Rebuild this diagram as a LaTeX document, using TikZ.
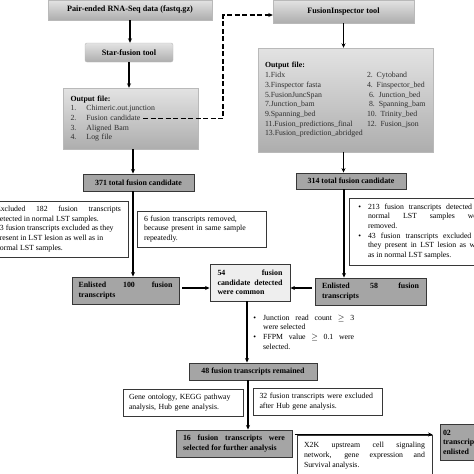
\documentclass[tikz,border=0pt]{standalone}
\usepackage{fontspec}
\setmainfont{Liberation Serif}
\usetikzlibrary{arrows.meta}
\definecolor{darkbox}{RGB}{165,165,165}
\definecolor{lightbox}{RGB}{238,238,238}
\definecolor{bordc}{RGB}{55,55,55}
\definecolor{listc}{RGB}{45,45,45}
\newcommand{\mybul}{\leavevmode\llap{\textbullet\hspace{7pt}}}
\begin{document}
\setlength{\parindent}{0pt}
\hyphenpenalty=10000 \exhyphenpenalty=10000 \tolerance=10000 \hbadness=10000
\begin{tikzpicture}[x=1pt,y=-1pt,
  every node/.style={font=\fontsize{7.8}{9.7}\selectfont, inner sep=0pt},
  gradbox/.style={draw=gray!55, top color=gray!22, bottom color=gray!64},
  darkb/.style={draw=bordc, line width=0.9pt, fill=darkbox, font=\bfseries\fontsize{7.9}{9.7}\selectfont},
  lightb/.style={draw=bordc, line width=0.9pt, fill=lightbox, font=\bfseries\fontsize{7.9}{9.7}\selectfont},
  txtb/.style={draw=bordc, line width=1pt, fill=white},
  arr/.style={line width=1.1pt, -{Stealth[length=4.5pt,width=4pt]}},
  dashline/.style={line width=1.5pt, dash pattern=on 5pt off 2.5pt, -{Stealth[length=4.5pt,width=4pt]}}
]
\useasboundingbox (0,0) rectangle (474,474);
\clip (0,0) rectangle (474,474);

% Top-left flow
\node[gradbox, minimum width=164pt, minimum height=20pt, font=\bfseries\fontsize{8.2}{9.7}\selectfont] (pair) at (130,10) {Pair-ended RNA-Seq data (fastq.gz)};
\node[gradbox, rounded corners=2pt, minimum width=88pt, minimum height=19pt, font=\bfseries\fontsize{8.2}{9.7}\selectfont] (star) at (129,52.5) {Star-fusion tool};
\node[gradbox, minimum width=135pt, minimum height=61pt, text width=120pt, align=left, text=listc] (out1) at (130.5,118.5)
 {{\bfseries\color{black}Output file:}\\
  \makebox[16pt][l]{1.}Chimeric.out.junction\\
  \makebox[16pt][l]{2.}Fusion candidate\\
  \makebox[16pt][l]{3.}Aligned Bam\\
  \makebox[16pt][l]{4.}Log file};
\coordinate (dstart) at (143,118.5);
\coordinate (dmid) at (223,118.5);

% Top-right flow
\node[gradbox, minimum width=141pt, minimum height=23pt, font=\bfseries\fontsize{8.2}{9.7}\selectfont] (fi) at (343.5,11.5) {FusionInspector tool};
\node[gradbox, minimum width=175pt, minimum height=104pt, text width=161pt, align=left, text=listc] (out2) at (345.5,100)
 {{\bfseries\color{black}Output file:}\\
  \makebox[102pt][l]{1.Fidx}2. Cytoband\\
  \makebox[102pt][l]{3.Finspector fasta}4. Finspector\_bed\\
  \makebox[104pt][l]{5.FusionJuncSpan}6. Junction\_bed\\
  \makebox[104pt][l]{7.Junction\_bam}8. Spanning\_bam\\
  \makebox[102pt][l]{9.Spanning\_bed}10. Trinity\_bed\\
  \makebox[102pt][l]{11.Fusion\_predictions\_final}12. Fusion\_json\\
  13.Fusion\_prediction\_abridged};

% Candidates
\node[darkb, minimum width=111pt, minimum height=17pt] (c371) at (138.5,182.5) {371 total fusion candidate};
\node[darkb, minimum width=110pt, minimum height=16pt] (c314) at (351,181) {314 total fusion candidate};

\node[txtb, minimum width=139pt, minimum height=56pt, text width=125pt, align=justify] (excl) at (58.5,229)
 {Excluded 182 fusion transcripts\linebreak detected in normal LST samples.\par
  43 fusion transcripts excluded as they\newline present in LST lesion as well as in\newline normal LST samples.};

\node[txtb, minimum width=129pt, minimum height=36pt, text width=115pt, align=left] (six) at (201.5,229)
 {6 fusion transcripts removed,\\ because present in same sample\\ repeatedly.};

\node[txtb, minimum width=153pt, minimum height=67pt, text width=115pt, align=justify] (bul2) at (425.5,231.5)
 {\mybul 213 fusion transcripts detected in\linebreak normal LST samples were\linebreak removed.\par
  \mybul 43 fusion transcripts excluded as\linebreak they present in LST lesion as well\linebreak as in normal LST samples.};

\node[darkb, minimum width=107pt, minimum height=27pt, text width=94pt, align=justify] (e100) at (125.5,290.5)
 {Enlisted 100 fusion\linebreak transcripts};
\node[lightb, minimum width=80pt, minimum height=37pt, text width=65pt, align=justify] (c54) at (250,282.5)
 {54 fusion\linebreak candidate detected\linebreak were common};
\node[darkb, minimum width=111pt, minimum height=27pt, text width=97pt, align=justify] (e58) at (370.5,291.5)
 {Enlisted 58 fusion\linebreak transcripts};

\node[anchor=north west, text width=91pt, align=justify] (mb) at (263,314.5)
 {\mybul Junction read count $\geq$ 3\linebreak were selected\par
  \mybul FFPM value $\geq$ 0.1 were\linebreak selected.};

\node[darkb, minimum width=128pt, minimum height=17pt] (c48) at (253,371.5) {48 fusion transcripts remained};

\node[txtb, minimum width=120pt, minimum height=27pt, text width=108pt, align=left] (gene) at (183,402.5)
 {Gene ontology, KEGG pathway\\ analysis, Hub gene analysis.};
\node[txtb, minimum width=129pt, minimum height=27pt, text width=116pt, align=left] (c32) at (317.5,401.5)
 {32 fusion transcripts were excluded\\ after Hub gene analysis.};

\node[darkb, minimum width=116pt, minimum height=27pt, text width=102pt, align=justify] (c16) at (234,443.5)
 {16 fusion transcripts were\linebreak selected for further analysis};
\node[txtb, minimum width=135pt, minimum height=41pt, text width=121pt, align=justify] (x2k) at (364.5,455.5)
 {X2K upstream cell signaling\linebreak network, gene expression and\linebreak Survival analysis.};
\node[darkb, minimum width=81pt, minimum height=36pt, text width=75pt, align=justify] (c02) at (480.5,442)
 {02 fusion\linebreak transcripts\linebreak enlisted};

% Connectors
\draw[arr] (pair.south) -- (pair.south |- star.north);
\draw[arr] (star.south) -- (star.south |- out1.north);
\draw[arr] ([xshift=2.5pt]out1.south) -- ([xshift=2.5pt]out1.south |- c371.north);
\draw[dashline] (dstart) -- (dmid) |- ([yshift=-3.5pt]fi.west);
\draw[arr] (fi.south) -- (fi.south |- out2.north);
\draw[arr] ([xshift=-2pt]out2.south) -- ([xshift=-2pt]out2.south |- c314.north);
\draw[arr] ([xshift=-5.5pt]c371.south) -- ([xshift=-5.5pt]c371.south |- e100.north);
\draw[arr] ([xshift=-7pt]c314.south) -- ([xshift=-7pt]c314.south |- e58.north);
\draw[arr] ([xshift=3pt,yshift=2.5pt]e100.east) -- ([yshift=2.5pt]e100.east -| c54.west);
\draw[arr] ([xshift=-3pt,yshift=3.5pt]e58.west) -- ([yshift=3.5pt]e58.west -| c54.east);
\draw[arr] ([xshift=-3pt]c54.south) -- ([xshift=-3pt]c54.south |- c48.north);
\draw[arr] ([xshift=-5pt]c48.south) -- ([xshift=-5pt]c48.south |- c16.north);
\draw[arr, shorten >=7pt] ([xshift=-2pt]x2k.north west) -- (x2k.north west -| c02.west);
\end{tikzpicture}
\end{document}
